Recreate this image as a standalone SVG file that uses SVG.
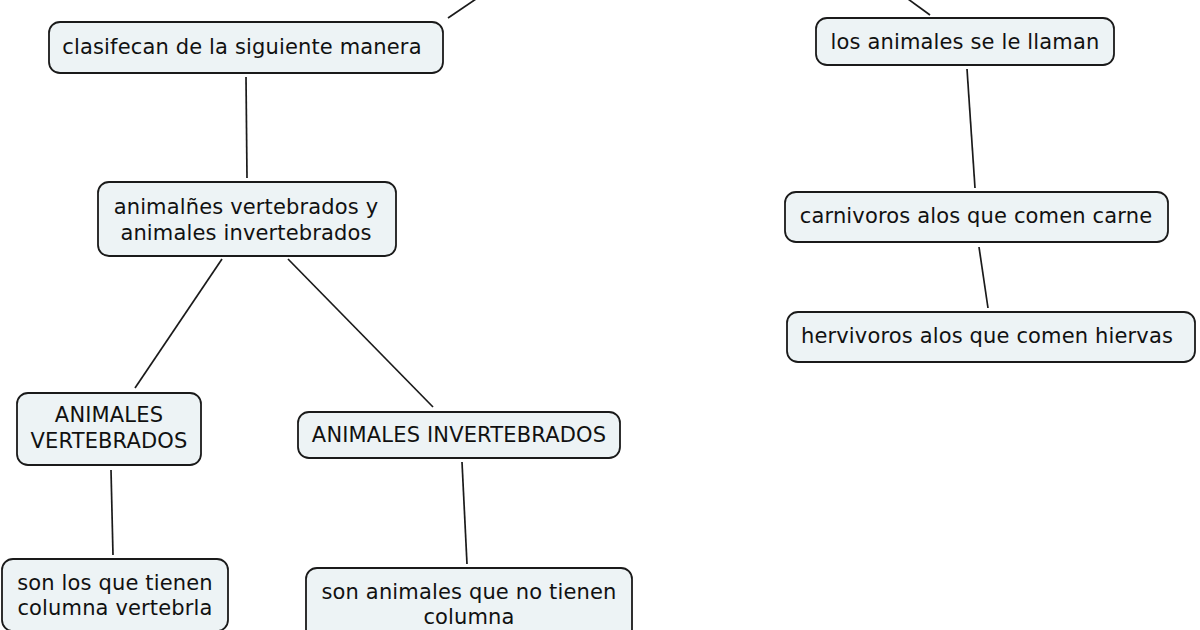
<svg xmlns="http://www.w3.org/2000/svg" width="1200" height="630" viewBox="0 0 1200 630">
<style>
.box{fill:#edf3f5;stroke:#1a1a1a;stroke-width:1.8}
.t{font-family:"DejaVu Sans","Noto Sans",sans-serif;font-size:21px;letter-spacing:0.15px;fill:#111;text-anchor:middle}
.c{stroke:#1a1a1a;stroke-width:1.7;fill:none}
</style>
<rect width="1200" height="630" fill="#ffffff"/>
<g id="connectors">
<line class="c" x1="448" y1="18" x2="476" y2="-1"/>
<line class="c" x1="930" y1="15" x2="908" y2="-1"/>
<line class="c" x1="246" y1="77" x2="247" y2="178"/>
<line class="c" x1="222" y1="259" x2="135" y2="388"/>
<line class="c" x1="288" y1="259" x2="433" y2="407"/>
<line class="c" x1="111" y1="470" x2="113" y2="555"/>
<line class="c" x1="462" y1="462" x2="467" y2="564"/>
<line class="c" x1="967" y1="69" x2="975" y2="188"/>
<line class="c" x1="979" y1="247" x2="988" y2="308"/>
</g>
<g id="n1">
<rect class="box" x="49" y="22" width="394" height="51" rx="11"/>
<text class="t" x="242" y="54">clasifecan de la siguiente manera</text>
</g>
<g id="n2">
<rect class="box" x="98" y="182" width="298" height="74" rx="11"/>
<text class="t" x="246" y="214">animalñes vertebrados y</text>
<text class="t" x="246" y="240">animales invertebrados</text>
</g>
<g id="n3">
<rect class="box" x="17" y="393" width="184" height="72" rx="11"/>
<text class="t" x="109" y="422">ANIMALES</text>
<text class="t" x="109" y="448">VERTEBRADOS</text>
</g>
<g id="n4">
<rect class="box" x="298" y="412" width="322" height="46" rx="11"/>
<text class="t" x="459" y="442">ANIMALES INVERTEBRADOS</text>
</g>
<g id="n5">
<rect class="box" x="2" y="559" width="226" height="72" rx="11"/>
<text class="t" x="115" y="590">son los que tienen</text>
<text class="t" x="115" y="615">columna vertebrla</text>
</g>
<g id="n6">
<rect class="box" x="306" y="568" width="326" height="72" rx="11"/>
<text class="t" x="469" y="599">son animales que no tienen</text>
<text class="t" x="469" y="624">columna</text>
</g>
<g id="n7">
<rect class="box" x="816" y="18" width="298" height="47" rx="11"/>
<text class="t" x="965" y="49">los animales se le llaman</text>
</g>
<g id="n8">
<rect class="box" x="785" y="192" width="383" height="50" rx="11"/>
<text class="t" x="976" y="223">carnivoros alos que comen carne</text>
</g>
<g id="n9">
<rect class="box" x="787" y="312" width="408" height="50" rx="11"/>
<text class="t" x="987" y="343">hervivoros alos que comen hiervas</text>
</g>
</svg>
